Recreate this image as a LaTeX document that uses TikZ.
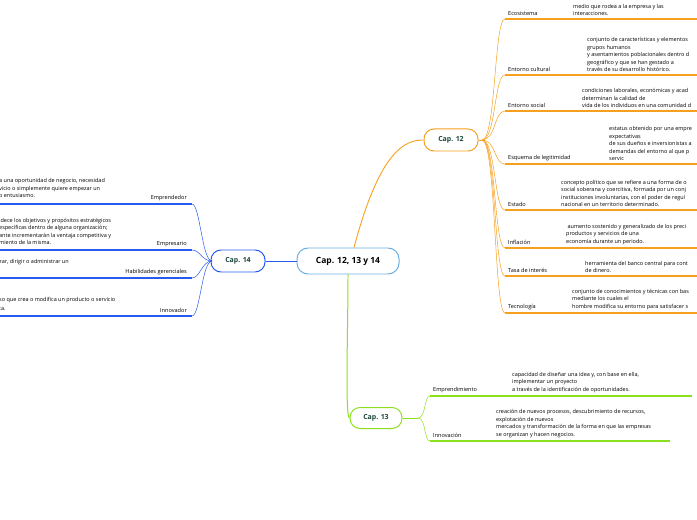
\documentclass[tikz,border=0pt]{standalone}
\usepackage{fontspec}
\setmainfont{Open Sans}
\definecolor{org}{RGB}{247,160,30}
\definecolor{bl}{RGB}{40,90,240}
\definecolor{gr}{RGB}{140,225,30}
\definecolor{cb}{RGB}{110,175,225}
\definecolor{tg}{RGB}{25,70,60}
\begin{document}
\begin{tikzpicture}[x=1bp,y=-1bp,
  capbox/.style={rounded corners=10bp,line width=1pt,fill=white,minimum height=22bp,font=\bfseries\fontsize{7}{8}\selectfont,text=tg},
  lab/.style={font=\fontsize{5.6}{7}\selectfont,inner sep=1pt},
  desc/.style={font=\fontsize{5.5}{7.6}\selectfont,align=left,anchor=south west,inner sep=1pt}]
\useasboundingbox (0,0) rectangle (697,520);
% central
\node[capbox,draw=cb,minimum width=102bp,minimum height=26bp,rounded corners=11bp,font=\bfseries\fontsize{8.5}{10}\selectfont,text=black] (c) at (348,261) {Cap. 12, 13 y 14};
\node[capbox,draw=org,minimum width=54bp] (c12) at (451,140) {Cap. 12};
\node[capbox,draw=bl,minimum width=54bp] (c14) at (238,261) {Cap. 14};
\node[capbox,draw=gr,minimum width=52bp,minimum height=21bp] (c13) at (376,418) {Cap. 13};
\draw[org,line width=0.9pt] ([xshift=6bp]c.north) .. controls (380,150) and (405,140) .. (c12.west);
\draw[bl,line width=0.9pt] (c14.east) -- (c.west);
\draw[gr,line width=1pt] (c.south) .. controls (348,330) and (345,418) .. (c13.west);
% Cap 12 branches
\coordinate (s12) at (482,140);
\draw[org,line width=0.9pt] (c12.east) -- (s12);
\foreach \y/\n/\t in {19/a/Ecosistema,75/b/Entorno cultural,111/c/Entorno social,164/d/Esquema de legitimidad,210/e/Estado,248/f/Inflación,276/g/Tasa de interés,313/h/Tecnología}{
  \coordinate (u\n) at (505,\y);
  \draw[org,line width=0.5pt] (s12) .. controls (496,140) and (494,\y) .. (u\n);
  \draw[org,line width=1.3pt] (u\n) -- (697,\y);
  \node[lab,anchor=south west] (l\n) at (507,\y-2) {\t};
}
\node[desc] (da) at (572,17) {medio que rodea a la empresa y las\\interacciones.};
\node[desc] (db) at (586,73) {conjunto de características y elementos\\grupos humanos\\y asentamientos poblacionales dentro d\\geográfico y que se han gestado a\\través de su desarrollo histórico.};
\node[desc] (dc) at (581,109) {condiciones laborales, económicas y acad\\determinan la calidad de\\vida de los individuos en una comunidad d};
\node[desc] (dd) at (608,162) {estatus obtenido por una empre\\expectativas\\de sus dueños e inversionistas a\\demandas del entorno al que p\\servic};
\node[desc] (de) at (560,208) {concepto político que se refiere a una forma de o\\social soberana y coercitiva, formada por un conj\\instituciones involuntarias, con el poder de regul\\nacional en un territorio determinado.};
\node[desc] (df) at (565,246) {\ aumento sostenido y generalizado de los preci\\productos y servicios de una\\economía durante un periodo.};
\node[desc] (dg) at (584,274) {herramienta del banco central para cont\\de dinero.};
\node[desc] (dh) at (571,311) {conjunto de conocimientos y técnicas con bas\\mediante los cuales el\\hombre modifica su entorno para satisfacer s};
% Cap 14 branches
\coordinate (s14) at (212,261);
\draw[bl,line width=0.9pt] (c14.west) -- (s14);
\foreach \y/\n/\t in {204/a/Emprendedor,250/b/Empresario,278/c/Habilidades gerenciales,316/d/Innovador}{
  \coordinate (v\n) at (192,\y);
  \draw[bl,line width=0.5pt] (s14) .. controls (202,261) and (200,\y) .. (v\n);
  \draw[bl,line width=1.3pt] (v\n) -- (0,\y);
  \node[lab,anchor=south east] (m\n) at (188,\y-2) {\t};
}
\node[desc] (ea) at (-2,199) {a una oportunidad de negocio, necesidad\\vicio o simplemente quiere empezar un\\o entusiasmo.};
\node[desc] (eb) at (-2,246) {ldece los objetivos y propósitos estratégicos\\ específicas dentro de alguna organización;\\ante incrementarán la ventaja competitiva y\\miento de la misma.};
\node[desc] (ec) at (-2,266) {zar, dirigir o administrar un};
\node[desc] (ed) at (-2,312) {so que crea o modifica un producto o servicio\\[2pt]ta.};
% Cap 13 branches
\coordinate (s13) at (418,418);
\draw[gr,line width=0.9pt] (c13.east) -- (s13);
\coordinate (wa) at (430,396);
\coordinate (wb) at (430,441);
\draw[gr,line width=0.5pt] (s13) .. controls (426,418) and (424,396) .. (wa);
\draw[gr,line width=0.5pt] (s13) .. controls (426,418) and (424,441) .. (wb);
\draw[gr,line width=1.3pt] (wa) -- (692,396);
\draw[gr,line width=1.3pt] (wb) -- (670,441);
\node[lab,anchor=south west] (na) at (432,394) {Emprendimiento};
\node[lab,anchor=south west] (nb) at (432,439) {Innovación};
\node[desc] (fa) at (511,394) {capacidad de diseñar una idea y, con base en ella,\\implementar un proyecto\\a través de la identificación de oportunidades.};
\node[desc] (fb) at (495,439) {creación de nuevos procesos, descubrimiento de recursos,\\explotación de nuevos\\mercados y transformación de la forma en que las empresas\\se organizan y hacen negocios.};
\end{tikzpicture}
\end{document}
